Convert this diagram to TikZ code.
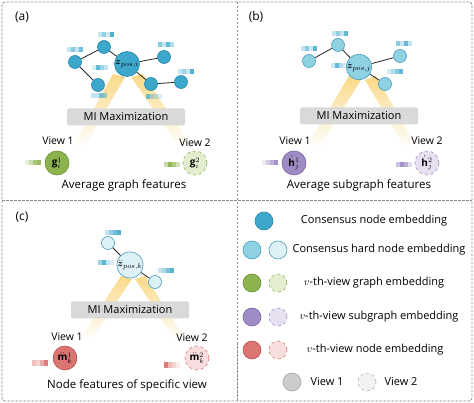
\documentclass[tikz,border=0pt]{standalone}
\usepackage{amsmath}
\usepackage{fontspec}
\setmainfont{Open Sans}
\usetikzlibrary{calc}

\definecolor{frame}{HTML}{8A8A8A}
\definecolor{cons}{HTML}{3DA8CC}
\definecolor{consd}{HTML}{2586A8}
\definecolor{hard}{HTML}{8ED2E3}
\definecolor{hardd}{HTML}{4A9EB8}
\definecolor{hardl}{HTML}{DDF1F7}
\definecolor{grn}{HTML}{8DB34F}
\definecolor{grnd}{HTML}{6C9034}
\definecolor{grnl}{HTML}{E3EDCF}
\definecolor{prp}{HTML}{9F8CC4}
\definecolor{prpd}{HTML}{7865A3}
\definecolor{prpl}{HTML}{E6E0F0}
\definecolor{red1}{HTML}{DB7572}
\definecolor{red1d}{HTML}{B65350}
\definecolor{red1l}{HTML}{F8DEDC}
\definecolor{beam}{HTML}{F9CF6A}
\definecolor{mibg}{HTML}{D9D9D9}

% small feature vector: position, colour, opacities
\newcommand{\fbar}[3]{%
  \foreach \o [count=\k] in {#3}
    \fill[#2,opacity=\o] ($(#1)+(\k*3.8-9.5,-2.5)$) rectangle ++(3.8,5);}

\tikzset{
  dot/.style={circle,draw,line width=0.6pt,inner sep=0pt},
  bignode/.style={dot,minimum size=25pt,font=\fontsize{9.5}{9.5}\selectfont},
  smallnode/.style={dot,minimum size=13pt},
  edge/.style={line width=0.8pt,black!85},
  mibox/.style={fill=mibg,rounded corners=2pt,minimum width=118pt,minimum height=17pt,
    inner sep=0pt,font=\fontsize{11}{12}\selectfont},
  viewtxt/.style={font=\fontsize{10.5}{12}\selectfont},
  captxt/.style={font=\fontsize{11.5}{12}\selectfont},
  panel/.style={font=\fontsize{12}{13}\selectfont},
  legtxt/.style={font=\fontsize{11}{12}\selectfont},
  vnode/.style={dot,minimum size=24pt,font=\fontsize{10}{10}\selectfont},
  lnode/.style={dot,minimum size=18pt},
  beamfill/.style={top color=beam,bottom color=white,draw=none,opacity=0.8}
}

\begin{document}
\begin{tikzpicture}[x=1pt,y=-1pt]
\useasboundingbox (0,0) rectangle (474,403);

\draw[frame,line width=0.8pt,dash pattern=on 2.5pt off 1.5pt,rounded corners=3pt]
  (2,2) rectangle (472,401);
\draw[frame,line width=0.8pt,dash pattern=on 2.5pt off 1.5pt] (237,2) -- (237,401);
\draw[frame,line width=0.8pt,dash pattern=on 2.5pt off 1.5pt] (2,200) -- (472,200);

% (a)
\shade[beamfill] (113,74) -- (125,77) -- (84,148) -- (72,148) -- cycle;
\shade[beamfill] (131,77) -- (143,74) -- (192,148) -- (180,148) -- cycle;
\node[panel] (pa) at (22,17) {(a)};
\node[bignode,fill=cons,draw=consd] (za) at (127,64) {$\boldsymbol{z}_{pos,i}$};
\node[smallnode,fill=cons,draw=consd] (za1) at (75,62) {};
\node[smallnode,fill=cons,draw=consd] (za2) at (104,47) {};
\node[smallnode,fill=cons,draw=consd] (za3) at (98,85) {};
\node[smallnode,fill=cons,draw=consd] (za4) at (164,57) {};
\node[smallnode,fill=cons,draw=consd] (za5) at (151,84) {};
\node[smallnode,fill=cons,draw=consd] (za6) at (181,82) {};
\draw[edge] (za1) -- (za2);
\draw[edge] (za2) -- (za);
\draw[edge] (za1) -- (za3);
\draw[edge] (za) -- (za4);
\draw[edge] (za) -- (za5);
\draw[edge] (za5) -- (za6);
\fbar{104,35}{cons}{.3,.55,.25,.9}
\fbar{73,50}{cons}{.3,.6,.3,.75}
\fbar{98,68}{cons}{.2,.8,.5,.3}
\fbar{97,96}{cons}{.3,.3,.7,.5}
\fbar{164,45}{cons}{.6,.3,.8,.4}
\fbar{184,72}{cons}{.3,.5,.3,.9}
\fbar{152,97}{cons}{.7,.4,.3,.2}
\node[mibox] (mia) at (126,117) {MI Maximization};
\node[viewtxt] (va1) at (58,141) {View 1};
\node[viewtxt] (va2) at (195,143) {View 2};
\node[vnode,fill=grn,draw=grnd] (ga1) at (57,163) {$\mathbf{g}_i^1$};
\node[vnode,fill=grnl,draw=grn,dashed] (ga2) at (195,163) {$\mathbf{g}_i^2$};
\fbar{31,163}{grn}{.2,.45,.75,.9}
\fbar{170,165}{grn}{.5,.95,.7,.4}
\node[captxt] (capa) at (124,185) {Average graph features};

% (b)
\shade[beamfill] (349,76) -- (361,80) -- (318,148) -- (306,148) -- cycle;
\shade[beamfill] (365,80) -- (376,76) -- (417,148) -- (405,148) -- cycle;
\node[panel] (pb) at (256,17) {(b)};
\node[bignode,fill=hard,draw=hardd] (zb) at (359,67) {$\dot{\boldsymbol{z}}_{pos,j}$};
\node[smallnode,fill=hard,draw=hardd] (zb1) at (309,61) {};
\node[smallnode,fill=hard,draw=hardd] (zb2) at (338,45) {};
\node[smallnode,fill=hard,draw=hardd] (zb3) at (400,56) {};
\node[smallnode,fill=hard,draw=hardd] (zb4) at (385,84) {};
\draw[edge] (zb1) -- (zb2);
\draw[edge] (zb2) -- (zb);
\draw[edge] (zb) -- (zb3);
\draw[edge] (zb) -- (zb4);
\fbar{338,34}{cons}{.3,.55,.3,.8}
\fbar{307,49}{cons}{.3,.6,.25,.85}
\fbar{337,66}{cons}{.25,.8,.4,.2}
\fbar{402,44}{cons}{.6,.3,.8,.3}
\fbar{393,72}{cons}{.2,.4,.6,.8}
\node[mibox] (mib) at (359,116) {MI Maximization};
\node[viewtxt] (vb1) at (295,141) {View 1};
\node[viewtxt] (vb2) at (427,141) {View 2};
\node[vnode,fill=prp,draw=prpd] (hb1) at (294,163) {$\dot{\mathbf{h}}_j^1$};
\node[vnode,fill=prpl,draw=prp,dashed] (hb2) at (427,163) {$\dot{\mathbf{h}}_j^2$};
\fbar{268,163}{prp}{.2,.45,.7,.95}
\fbar{402,165}{prp}{.5,.95,.7,.3}
\node[captxt] (capb) at (359,185) {Average subgraph features};

% (c)
\shade[beamfill] (121,276) -- (132,279) -- (91,340) -- (79,340) -- cycle;
\shade[beamfill] (135,279) -- (145,276) -- (186,340) -- (175,340) -- cycle;
\node[panel] (pc) at (22,217) {(c)};
\node[bignode,fill=hardl,draw=hardd] (zc) at (130,265) {$\ddot{\boldsymbol{z}}_{pos,k}$};
\node[smallnode,fill=hardl,draw=hardd] (zc1) at (108,243) {};
\node[smallnode,fill=hardl,draw=hardd] (zc2) at (155,282) {};
\draw[edge] (zc1) -- (zc);
\draw[edge] (zc) -- (zc2);
\fbar{111,233}{cons}{.3,.55,.75,.9}
\fbar{104,263}{cons}{.5,.85,.3,.2}
\fbar{164,271}{cons}{.3,.45,.7,.85}
\node[mibox] (mic) at (130,310) {MI Maximization};
\node[viewtxt] (vc1) at (67,337) {View 1};
\node[viewtxt] (vc2) at (192,338) {View 2};
\node[vnode,fill=red1,draw=red1d] (mc1) at (65,358) {$\ddot{\mathbf{m}}_k^1$};
\node[vnode,fill=red1l,draw=red1,dashed] (mc2) at (197,358) {$\ddot{\mathbf{m}}_k^2$};
\fbar{38,363}{red1}{.45,.3,.6,.95}
\fbar{170,365}{red1}{.95,.5,.3,.15}
\node[captxt] (capc) at (127,385) {Node features of specific view};

% legend
\node[lnode,fill=cons,draw=consd] (l1) at (264,221) {};
\node[legtxt] (t1) at (374,221) {Consensus node embedding};
\node[lnode,fill=hard,draw=hardd] (l2a) at (252,250) {};
\node[lnode,fill=hardl,draw=hardd] (l2b) at (278,250) {};
\node[legtxt] (t2) at (379,250) {Consensus hard node embedding};
\node[lnode,fill=grn,draw=grnd] (l3a) at (252,283) {};
\node[lnode,fill=grnl,draw=grn,dashed] (l3b) at (278,283) {};
\node[legtxt] (t3) at (374,283) {$v$-th-view graph embedding};
\node[lnode,fill=prp,draw=prpd] (l4a) at (252,317) {};
\node[lnode,fill=prpl,draw=prp,dashed] (l4b) at (278,317) {};
\node[legtxt] (t4) at (379,317) {$v$-th-view subgraph embedding};
\node[lnode,fill=red1,draw=red1d] (l5a) at (252,350) {};
\node[lnode,fill=red1l,draw=red1,dashed] (l5b) at (278,350) {};
\node[legtxt] (t5) at (375,350) {$v$-th-view node embedding};
\node[lnode,fill=black!20,draw=black!35] (l6a) at (292,382) {};
\node[legtxt] (t6a) at (327,382) {View 1};
\node[lnode,fill=black!5,draw=black!30,dashed] (l6b) at (367,382) {};
\node[legtxt] (t6b) at (401,382) {View 2};
\end{tikzpicture}
\end{document}
